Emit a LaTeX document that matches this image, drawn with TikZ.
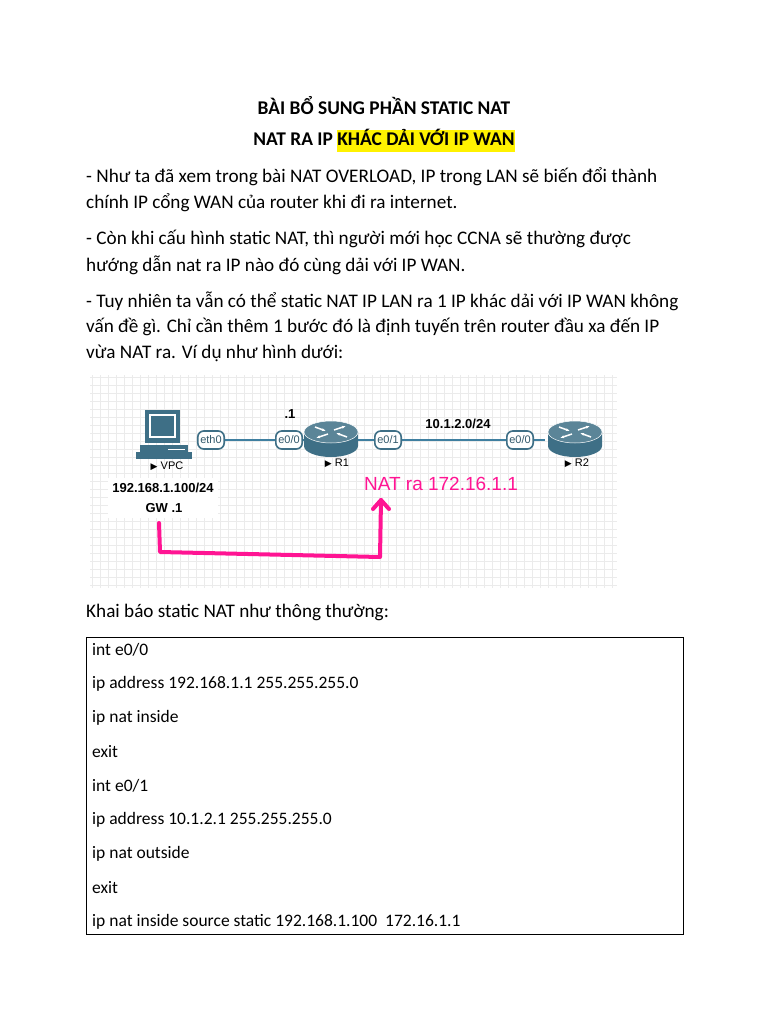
\documentclass[tikz,border=0pt]{standalone}
\usepackage{fontspec}
\setmainfont{Carlito}
\newfontfamily\arialf{Liberation Sans}
\newfontfamily\dejav{DejaVu Sans}
\usetikzlibrary{arrows.meta}
\definecolor{ciscob}{HTML}{3E6F86}
\definecolor{linkb}{HTML}{3F7FA0}
\definecolor{magenta1}{HTML}{FF1493}
\tikzset{
 body/.style={anchor=west,inner sep=0,font=\fontsize{19.2}{22}\selectfont},
 code/.style={anchor=west,inner sep=0,font=\fontsize{17.5}{20}\selectfont},
 iface/.style={draw=ciscob,line width=1.6pt,rounded corners=6pt,fill=white,inner sep=2.5pt,font=\arialf\fontsize{11}{13}\selectfont,text=ciscob!80!black,minimum height=18pt},
 lbl/.style={inner sep=0,font=\arialf\bfseries\fontsize{13}{15}\selectfont},
 small/.style={inner sep=0,font=\arialf\fontsize{11}{13}\selectfont},
}
\newcommand{\routericon}[2]{%
 \fill[ciscob] (#1-27,#2-8) -- (#1-27,#2+6) arc[x radius=27,y radius=11,start angle=180,end angle=0] -- (#1+27,#2-8) -- cycle;
 \fill[ciscob!85!white,draw=white,line width=0.5pt] (#1,#2-8) ellipse[x radius=27,y radius=11];
 \draw[white,line width=1.5pt,-{Latex[length=4pt]}] (#1-16,#2-13)--(#1-5,#2-9);
 \draw[white,line width=1.5pt,-{Latex[length=4pt]}] (#1+16,#2-3)--(#1+5,#2-7);
 \draw[white,line width=1.5pt,-{Latex[length=4pt]}] (#1+3,#2-10)--(#1+15,#2-14);
 \draw[white,line width=1.5pt,-{Latex[length=4pt]}] (#1-3,#2-6)--(#1-15,#2-2);
}
\begin{document}
\begin{tikzpicture}[x=1pt,y=-1pt]
\useasboundingbox (0,0) rectangle (768,1024);
\fill[white] (0,0) rectangle (768,1024);
\node[inner sep=0,font=\bfseries\fontsize{19.4}{22}\selectfont] (t1) at (384,106) {BÀI BỔ SUNG PHẦN STATIC NAT};
\node[inner sep=0,font=\bfseries\fontsize{19.4}{22}\selectfont] (t2) at (384,141) {NAT RA IP {\fboxsep=0pt\colorbox{yellow}{\strut KHÁC DẢI VỚI IP WAN}}};
\node[body] (p1) at (86,177) {- Như ta đã xem trong bài NAT OVERLOAD, IP trong LAN sẽ biến đổi thành};
\node[body] (p2) at (86,203) {chính IP cổng WAN của router khi đi ra internet.};
\node[body] (p3) at (86,239) {- Còn khi cấu hình static NAT, thì người mới học CCNA sẽ thường được};
\node[body] (p4) at (86,265) {hướng dẫn nat ra IP nào đó cùng dải với IP WAN.};
\node[body] (p5) at (86,301) {- Tuy nhiên ta vẫn có thể static NAT IP LAN ra 1 IP khác dải với IP WAN không};
\node[body] (p6) at (86,327) {vấn đề gì. Chỉ cần thêm 1 bước đó là định tuyến trên router đầu xa đến IP};
\node[body] (p7) at (86,353) {vừa NAT ra. Ví dụ như hình dưới:};
% diagram
\fill[white] (90,375) rectangle (617,588);
\foreach \gx in {92,100,...,616} \draw[black!8] (\gx,375) -- (\gx,588);
\foreach \gy in {377,385,...,588} \draw[black!8] (90,\gy) -- (617,\gy);
\fill[white] (108,478) rectangle (218,518);
\draw[linkb,line width=1.4pt] (200,440) -- (545,440);
% PC
\fill[ciscob] (145,410) rectangle (180,443);
\fill[white] (149,414) rectangle (176,438);
\fill[ciscob] (151,416) rectangle (174,436);
\fill[ciscob] (140,445) -- (188,445) -- (188,452) -- (140,452) -- cycle;
\fill[ciscob] (136,452) -- (192,452) -- (192,459) -- (136,459) -- cycle;
\draw[white,line width=0.8pt] (168,449) -- (185,449);
\routericon{331}{440}
\routericon{575}{440}
\node[iface] (eth0) at (211,440) {eth0};
\node[iface] (r1a) at (289,440) {e0/0};
\node[iface] (r1b) at (388,440) {e0/1};
\node[iface] (r2a) at (520,440) {e0/0};
\node[lbl] (dot1) at (290,414) {.1};
\node[lbl] (net) at (458,424) {10.1.2.0/24};
\node[small] (vpc) at (167,466) {{\dejav\fontsize{9}{10}\selectfont ▶} VPC};
\node[small] (r1) at (337,463) {{\dejav\fontsize{9}{10}\selectfont ▶} R1};
\node[small] (r2) at (577,463) {{\dejav\fontsize{9}{10}\selectfont ▶} R2};
\node[lbl] (ip) at (163,488) {192.168.1.100/24};
\node[lbl] (gw) at (164,508) {GW .1};
\node[inner sep=0,text=magenta1,font=\arialf\fontsize{19}{22}\selectfont] (nat) at (441,484) {NAT ra 172.16.1.1};
\coordinate (m0) at (159,523);
\coordinate (m1) at (381,500);
\draw[magenta1,line width=4pt,line join=round,line cap=round] (m0) -- (160,552) -- (380,557) -- (m1);
\draw[magenta1,line width=4pt,line cap=round,line join=round] (373,509) -- (m1) -- (389,509);
% code
\node[body] (kb) at (86,612) {Khai báo static NAT như thông thường:};
\draw[black,line width=0.6pt] (86,637) rectangle (683,934);
\node[code] (c1) at (92,650) {int e0/0};
\node[code] (c2) at (92,684) {ip address 192.168.1.1 255.255.255.0};
\node[code] (c3) at (92,718) {ip nat inside};
\node[code] (c4) at (92,752) {exit};
\node[code] (c5) at (92,786) {int e0/1};
\node[code] (c6) at (92,820) {ip address 10.1.2.1 255.255.255.0};
\node[code] (c7) at (92,854) {ip nat outside};
\node[code] (c8) at (92,888) {exit};
\node[code] (c9) at (92,922) {ip nat inside source static 192.168.1.100~~172.16.1.1};
\end{tikzpicture}
\end{document}
